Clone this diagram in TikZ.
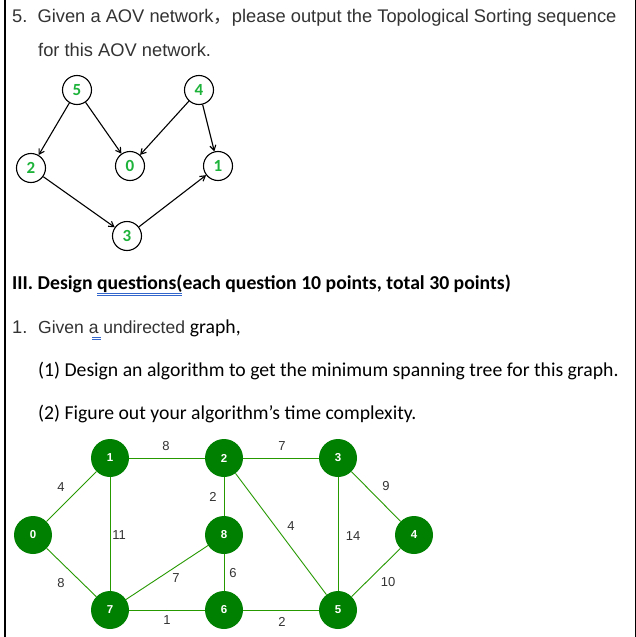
\documentclass[tikz,border=0pt]{standalone}
\usepackage{fontspec}
\setmainfont{Liberation Sans}
\newfontfamily\calfnt{Carlito}
\newfontfamily\cjkfnt{Noto Sans CJK SC}
\usetikzlibrary{arrows.meta}
\definecolor{txt}{HTML}{333333}
\definecolor{gg}{HTML}{008000}
\definecolor{lg}{HTML}{1DB33A}
\definecolor{ul}{HTML}{3366CC}
\begin{document}
\begin{tikzpicture}[x=1pt,y=-1pt,
  line/.style={anchor=base west,inner sep=0,font=\fontsize{18.3}{18}\selectfont,text=txt},
  cline/.style={anchor=base west,inner sep=0,font=\calfnt\fontsize{19.7}{18}\selectfont,text=black},
  av/.style={circle,draw=black,line width=1.1pt,minimum size=29,inner sep=0,font=\calfnt\bfseries\fontsize{17}{17}\selectfont,text=lg},
  arr/.style={-{Straight Barb[length=5pt,width=6pt]},line width=1.1pt,black},
  gv/.style={circle,fill=gg,minimum size=38,inner sep=0,font=\bfseries\fontsize{11.5}{11}\selectfont,text=white},
  ge/.style={draw=gg!80!lime,line width=0.9pt},
  wl/.style={inner sep=0,font=\fontsize{13}{13}\selectfont,text=txt}]
\useasboundingbox (0,0) rectangle (636,637);
\fill[white] (0,0) rectangle (636,637);
\draw[line width=1.2pt] (5,0) -- (5,637);
\draw[line width=1pt] (635,0) -- (635,637);
\node[line] (t1) at (12,22) {5.\ \ Given a AOV network{\cjkfnt ，}please output the Topological Sorting sequence};
\node[line] (t2) at (38,56) {for this AOV network.};
% AOV
\node[av] (a5) at (77,90) {5};
\node[av] (a4) at (199,90) {4};
\node[av] (a2) at (31,168) {2};
\node[av] (a0) at (130,166) {0};
\node[av] (a1) at (218,166) {1};
\node[av] (a3) at (127,236) {3};
\draw[arr] (a5) -- (a2);
\draw[arr] (a5) -- (a0);
\draw[arr] (a4) -- (a0);
\draw[arr] (a4) -- (a1);
\draw[arr] (a2) -- (a3);
\draw[arr] (a3) -- (a1);
% texts
\node[cline,font=\calfnt\bfseries\fontsize{19.7}{18}\selectfont] (h) at (12,289) {III. Design questions(each question 10 points, total 30 points)};
\draw[ul,line width=0.6pt] (97,293) -- (182,293) (97,295.5) -- (182,295.5);
\node[line] (g0) at (12,333) {1.};
\node[line,font=\fontsize{17.5}{18}\selectfont] (g1) at (38,333) {Given a undirected {\calfnt\fontsize{19.7}{18}\selectfont\color{black}graph,}};
\draw[ul,line width=0.6pt] (92,337) -- (101,337) (92,339.5) -- (101,339.5);
\node[cline] (q1) at (38,376) {(1) Design an algorithm to get the minimum spanning tree for this graph.};
\node[cline] (q2) at (38,419) {(2) Figure out your algorithm’s time complexity.};
% MST graph
\node[gv] (n1) at (110,458) {1};
\node[gv] (n2) at (224,458) {2};
\node[gv] (n3) at (338,458) {3};
\node[gv] (n0) at (33,535) {0};
\node[gv] (n8) at (224,535) {8};
\node[gv] (n4) at (414,535) {4};
\node[gv] (n7) at (110,610) {7};
\node[gv] (n6) at (224,610) {6};
\node[gv] (n5) at (338,610) {5};
\draw[ge] (n0) -- (n1); \draw[ge] (n0) -- (n7); \draw[ge] (n1) -- (n2);
\draw[ge] (n1) -- (n7); \draw[ge] (n2) -- (n3); \draw[ge] (n2) -- (n8);
\draw[ge] (n2) -- (n5); \draw[ge] (n3) -- (n5); \draw[ge] (n3) -- (n4);
\draw[ge] (n4) -- (n5); \draw[ge] (n8) -- (n7); \draw[ge] (n8) -- (n6);
\draw[ge] (n7) -- (n6); \draw[ge] (n6) -- (n5);
\node[wl] (w1) at (166,446) {8};
\node[wl] (w2) at (282,446) {7};
\node[wl] (w3) at (61,487) {4};
\node[wl] (w4) at (213,497) {2};
\node[wl] (w5) at (386,486) {9};
\node[wl] (w6) at (119,535) {11};
\node[wl] (w7) at (291,526) {4};
\node[wl] (w8) at (353,536) {14};
\node[wl] (w9) at (176,578) {7};
\node[wl] (w10) at (233,573) {6};
\node[wl] (w11) at (61,583) {8};
\node[wl] (w12) at (388,582) {10};
\node[wl] (w13) at (167,620) {1};
\node[wl] (w14) at (282,622) {2};
\end{tikzpicture}
\end{document}
